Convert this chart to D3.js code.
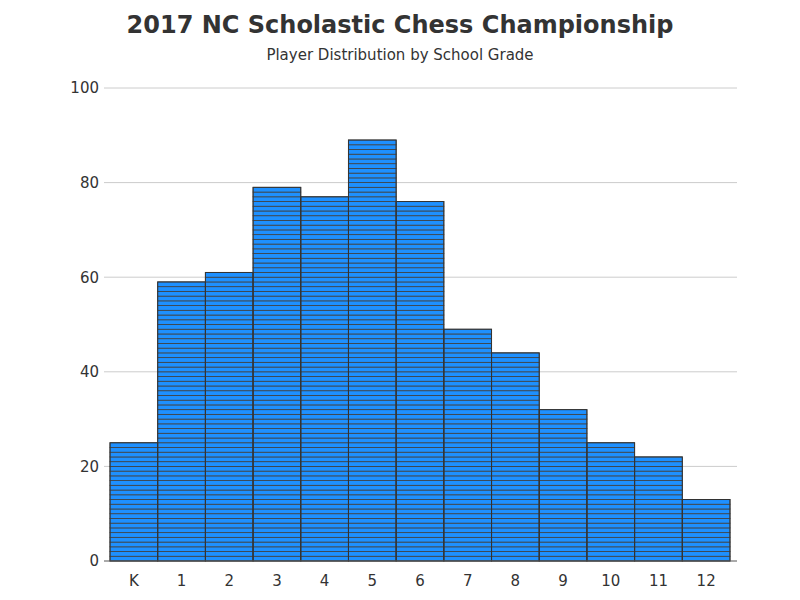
<!DOCTYPE html>
<html>
<head>
<meta charset="utf-8">
<script src="https://cdn.jsdelivr.net/npm/d3@7"></script>
<style>
  body { margin: 0; background: #fff; }
  text { font-family: "DejaVu Sans", sans-serif; fill: #333; }
</style>
</head>
<body>
<div id="chart"></div>
<script>
// Players per grade
const grades = ["K", "1", "2", "3", "4", "5", "6", "7", "8", "9", "10", "11", "12"];
const players = [25, 59, 61, 79, 77, 89, 76, 49, 44, 32, 25, 22, 13];
const yTicks = [0, 20, 40, 60, 80, 100];

const width = 800, height = 600;
const svg = d3.select("#chart").append("svg")
    .attr("width", width)
    .attr("height", height);

const x = d3.scaleBand().domain(grades).range([110, 730]).padding(0);
const y = d3.scaleLinear().domain([0, 100]).range([561, 88]);

// Title
svg.append("text")
    .attr("x", 400).attr("y", 33)
    .attr("text-anchor", "middle")
    .style("font-size", "24px").style("font-weight", "bold")
    .text("2017 NC Scholastic Chess Championship");
svg.append("text")
    .attr("x", 400).attr("y", 60)
    .attr("text-anchor", "middle")
    .style("font-size", "15px")
    .text("Player Distribution by School Grade");

// Grid lines
svg.selectAll(".grid")
    .data(yTicks.filter(d => d > 0))
    .enter().append("line")
    .attr("x1", 104).attr("x2", 737)
    .attr("y1", d => y(d)).attr("y2", d => y(d))
    .attr("stroke", "#ccc");

// One strip per player
const cells = [];
players.forEach((n, i) => {
    for (let k = 0; k < n; k++) cells.push({ grade: grades[i], k });
});
svg.selectAll(".cell")
    .data(cells)
    .enter().append("rect")
    .attr("x", d => x(d.grade))
    .attr("width", x.bandwidth())
    .attr("y", d => y(d.k + 1))
    .attr("height", y(0) - y(1))
    .attr("fill", "#1e90ff")
    .attr("stroke", "#404040")
    .attr("stroke-width", 0.8);

// Bar outlines
svg.selectAll(".outline")
    .data(players)
    .enter().append("rect")
    .attr("x", (d, i) => x(grades[i]))
    .attr("width", x.bandwidth())
    .attr("y", d => y(d))
    .attr("height", d => y(0) - y(d))
    .attr("fill", "none")
    .attr("stroke", "#333");

// Axes
const xAxis = svg.append("g")
    .attr("transform", "translate(0,561)")
    .call(d3.axisBottom(x).tickSize(0).tickPadding(14));
xAxis.select(".domain").attr("d", "M104,0H737").attr("stroke", "#555");
xAxis.selectAll("text").style("font-size", "15px").style("font-family", "DejaVu Sans, sans-serif").attr("fill", "#333");

const yAxis = svg.append("g")
    .attr("transform", "translate(104,0)")
    .call(d3.axisLeft(y).tickValues(yTicks).tickSize(0).tickPadding(5));
yAxis.select(".domain").remove();
yAxis.selectAll("text").style("font-size", "15px").style("font-family", "DejaVu Sans, sans-serif").attr("fill", "#333");
</script>
</body>
</html>
